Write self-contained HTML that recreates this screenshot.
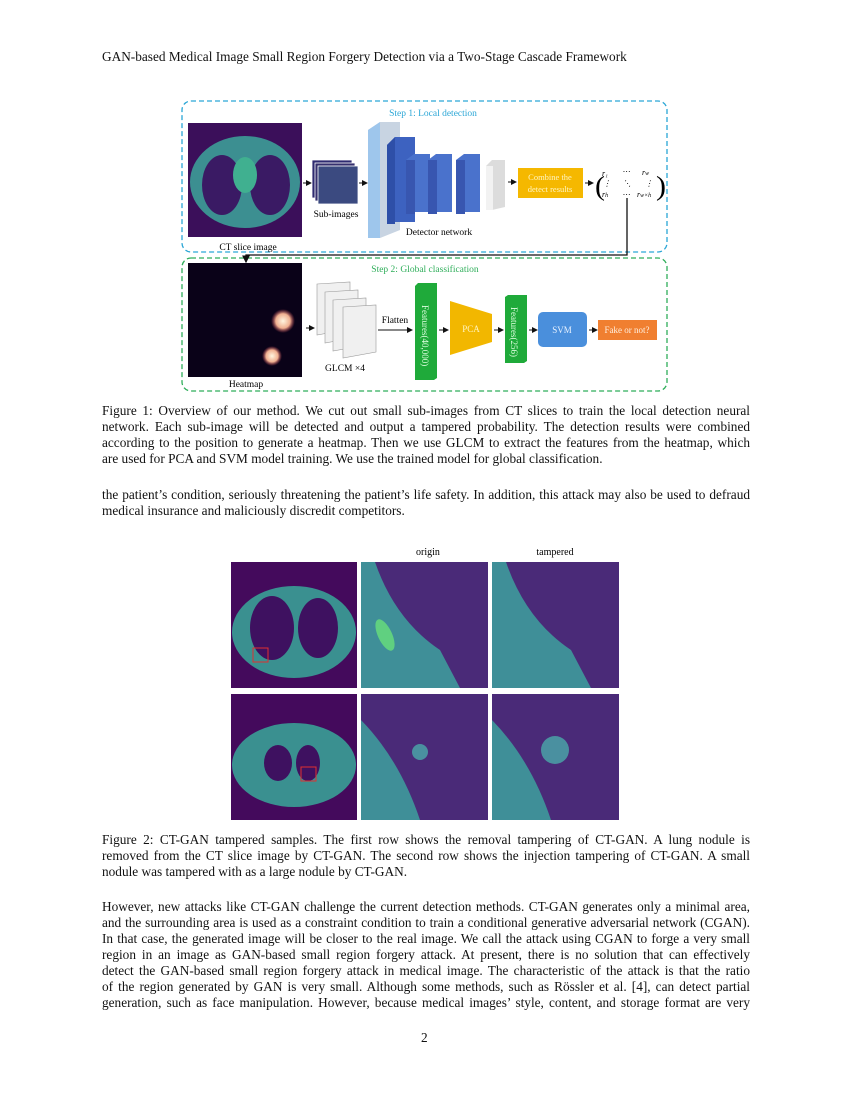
<!DOCTYPE html>
<html><head><meta charset="utf-8">
<style>
body{margin:0;background:#fff;}
#p{position:relative;width:850px;height:1100px;overflow:hidden;font-family:"Liberation Serif",serif;color:#111;}
.l{position:absolute;left:102px;width:648px;font-size:13.3px;line-height:16px;white-space:nowrap;}
.j{text-align:justify;text-align-last:justify;}
.t{position:absolute;font-family:"Liberation Serif",serif;white-space:nowrap;}
</style></head><body><div id="p">
<div class="t" style="left:102px;top:49px;font-size:13.3px;">GAN-based Medical Image Small Region Forgery Detection via a Two-Stage Cascade Framework</div>

<svg style="position:absolute;left:0;top:0" width="850" height="1100">
<defs>
<marker id="a" markerWidth="6" markerHeight="6" refX="5" refY="3" orient="auto"><path d="M0,0L6,3L0,6z" fill="#111"/></marker>
<radialGradient id="hm" cx="50%" cy="50%" r="50%"><stop offset="0" stop-color="#fff6e0"/><stop offset="0.6" stop-color="#f0b090"/><stop offset="1" stop-color="#c04050" stop-opacity="0"/></radialGradient>
</defs>
<rect x="182" y="101" width="485" height="151" rx="9" fill="none" stroke="#2aa6d6" stroke-width="1.3" stroke-dasharray="5,3"/>
<rect x="182" y="258" width="485" height="133" rx="9" fill="none" stroke="#2fae5a" stroke-width="1.3" stroke-dasharray="5,3"/>
<text x="433" y="116" font-size="9.5" fill="#2aa6d6" text-anchor="middle" font-family="Liberation Serif">Step 1: Local detection</text>
<text x="425" y="272" font-size="9.5" fill="#2fae5a" text-anchor="middle" font-family="Liberation Serif">Step 2: Global classification</text>
<!-- CT -->
<rect x="188" y="123" width="114" height="114" fill="#3b0f5a"/>
<ellipse cx="245" cy="182" rx="55" ry="46" fill="#3c8f91"/>
<ellipse cx="222" cy="185" rx="20" ry="30" fill="#3a1a64"/>
<ellipse cx="270" cy="185" rx="20" ry="30" fill="#3a1a64"/>
<ellipse cx="245" cy="175" rx="12" ry="18" fill="#40b090"/>
<text x="248" y="250" font-size="9.5" text-anchor="middle" font-family="Liberation Serif">CT slice image</text>
<line x1="303" y1="183" x2="311" y2="183" stroke="#111" marker-end="url(#a)"/>
<rect x="312" y="160" width="40" height="38" fill="#2e2a70" stroke="#fff" stroke-width="0.8"/>
<rect x="315" y="163" width="40" height="38" fill="#35306e" stroke="#fff" stroke-width="0.8"/>
<rect x="318" y="166" width="40" height="38" fill="#3b4a80" stroke="#fff" stroke-width="0.8"/>
<text x="336" y="217" font-size="9.5" text-anchor="middle" font-family="Liberation Serif">Sub-images</text>
<line x1="359" y1="183" x2="367" y2="183" stroke="#111" marker-end="url(#a)"/>
<!-- detector -->
<polygon points="368,130 380,122 400,122 400,230 380,238 368,238" fill="#c8d4e2"/>
<polygon points="368,130 380,122 380,238 368,238" fill="#9ec6ec"/>
<polygon points="387,145 395,137 415,137 415,222 395,222 387,224" fill="#3d62c0"/>
<polygon points="387,145 395,137 395,224 387,224" fill="#2e4fa8"/>
<g fill="#4a72cc">
<polygon points="406,160 414,154 430,154 430,212 414,212 406,214"/>
<polygon points="428,160 436,154 452,154 452,212 436,212 428,214"/>
<polygon points="456,160 464,154 480,154 480,212 464,212 456,214"/>
</g>
<g fill="#3856b0">
<rect x="406" y="160" width="9" height="54"/><rect x="428" y="160" width="9" height="54"/><rect x="456" y="160" width="9" height="54"/>
</g>
<polygon points="486,166 492,160 505,160 505,207 492,210 486,210" fill="#dcdcdc"/>
<rect x="486" y="166" width="7" height="44" fill="#f2f2f2"/>
<text x="439" y="235" font-size="9.5" text-anchor="middle" font-family="Liberation Serif">Detector network</text>
<line x1="508" y1="182" x2="516" y2="182" stroke="#111" marker-end="url(#a)"/>
<rect x="518" y="168" width="65" height="30" fill="#f5b800"/>
<text x="550" y="180" font-size="8.5" fill="#fff4c0" text-anchor="middle" font-family="Liberation Serif">Combine the</text>
<text x="550" y="192" font-size="8.5" fill="#fff4c0" text-anchor="middle" font-family="Liberation Serif">detect results</text>
<line x1="585" y1="183" x2="593" y2="183" stroke="#111" marker-end="url(#a)"/>
<text x="595" y="196" font-size="30" font-family="Liberation Serif" transform="scale(1,0.9)" transform-origin="600 185">(</text>
<text x="656" y="196" font-size="30" font-family="Liberation Serif" transform="scale(1,0.9)" transform-origin="660 185">)</text>
<g font-size="8" font-style="italic" font-family="Liberation Serif">
<text x="602" y="176">r₁</text><text x="622" y="174">⋯</text><text x="642" y="175">r<tspan font-size="6">w</tspan></text>
<text x="603" y="186">⋮</text><text x="623" y="186">⋱</text><text x="645" y="186">⋮</text>
<text x="602" y="197">r<tspan font-size="6">h</tspan></text><text x="622" y="197">⋯</text><text x="637" y="197">r<tspan font-size="6">w×h</tspan></text>
</g>
<polyline points="627,198 627,255 246,255 246,262" fill="none" stroke="#111" stroke-width="1.3" marker-end="url(#a)"/>
<!-- heatmap -->
<rect x="188" y="263" width="114" height="114" fill="#0a0218"/>
<circle cx="283" cy="321" r="12" fill="url(#hm)"/>
<circle cx="272" cy="356" r="10" fill="url(#hm)"/>
<text x="246" y="387" font-size="9.5" text-anchor="middle" font-family="Liberation Serif">Heatmap</text>
<line x1="306" y1="328" x2="314" y2="328" stroke="#111" marker-end="url(#a)"/>
<g fill="#f0f0f0" stroke="#999" stroke-width="0.6">
<polygon points="317,284 350,282 350,329 317,335"/>
<polygon points="325,292 358,290 358,337 325,343"/>
<polygon points="333,300 366,298 366,345 333,351"/>
<polygon points="343,307 376,305 376,352 343,358"/>
</g>
<text x="345" y="371" font-size="9.5" text-anchor="middle" font-family="Liberation Serif">GLCM ×4</text>
<text x="395" y="323" font-size="9.5" text-anchor="middle" font-family="Liberation Serif">Flatten</text>
<line x1="378" y1="330" x2="412" y2="330" stroke="#111" marker-end="url(#a)"/>
<polygon points="415,286 418,283 437,283 437,378 434,380 415,380" fill="#1faa3a"/>
<text transform="translate(422,305) rotate(90)" font-size="9" fill="#e0ffe0" font-family="Liberation Serif">Features(40,000)</text>
<line x1="439" y1="330" x2="448" y2="330" stroke="#111" marker-end="url(#a)"/>
<polygon points="450,301 492,314 492,342 450,355" fill="#f2b700"/>
<text x="471" y="332" font-size="9" fill="#fff4c0" text-anchor="middle" font-family="Liberation Serif">PCA</text>
<line x1="494" y1="330" x2="503" y2="330" stroke="#111" marker-end="url(#a)"/>
<polygon points="505,297 508,295 527,295 527,361 524,363 505,363" fill="#1faa3a"/>
<text transform="translate(511,307) rotate(90)" font-size="9" fill="#e0ffe0" font-family="Liberation Serif">Features(256)</text>
<line x1="529" y1="330" x2="537" y2="330" stroke="#111" marker-end="url(#a)"/>
<rect x="538" y="312" width="49" height="35" rx="5" fill="#4a8fdc"/>
<text x="562" y="333" font-size="9" fill="#e8f2ff" text-anchor="middle" font-family="Liberation Serif">SVM</text>
<line x1="589" y1="330" x2="597" y2="330" stroke="#111" marker-end="url(#a)"/>
<rect x="598" y="320" width="59" height="20" fill="#f07f30"/>
<text x="627" y="333" font-size="9" fill="#fff0e0" text-anchor="middle" font-family="Liberation Serif">Fake or not?</text>

<!-- Figure 2 -->
<text x="428" y="555" font-size="10" text-anchor="middle" font-family="Liberation Serif">origin</text>
<text x="555" y="555" font-size="10" text-anchor="middle" font-family="Liberation Serif">tampered</text>
<rect x="231" y="562" width="126" height="126" fill="#440a5c"/>
<ellipse cx="294" cy="632" rx="62" ry="46" fill="#3a9090"/>
<ellipse cx="272" cy="628" rx="22" ry="32" fill="#3e1160"/>
<ellipse cx="318" cy="628" rx="20" ry="30" fill="#3e1160"/>
<rect x="253" y="648" width="15" height="14" fill="none" stroke="#e03030" stroke-width="1"/>
<rect x="231" y="694" width="126" height="126" fill="#440a5c"/>
<ellipse cx="294" cy="765" rx="62" ry="42" fill="#3a9090"/>
<ellipse cx="278" cy="763" rx="14" ry="18" fill="#3e1160"/>
<ellipse cx="308" cy="763" rx="12" ry="18" fill="#3e1160"/>
<rect x="301" y="767" width="15" height="14" fill="none" stroke="#e03030" stroke-width="1"/>
<g>
<rect x="361" y="562" width="127" height="126" fill="#4a2a78"/>
<path d="M361,562 L375,562 Q395,620 440,650 L460,688 L361,688z" fill="#3f8f98"/>
<ellipse cx="385" cy="635" rx="7" ry="17" fill="#60d080" transform="rotate(-25 385 635)"/>
<rect x="492" y="562" width="127" height="126" fill="#4a2a78"/>
<path d="M492,562 L506,562 Q526,620 571,650 L591,688 L492,688z" fill="#3f8f98"/>
<rect x="361" y="694" width="127" height="126" fill="#4a2a78"/>
<path d="M361,720 Q400,760 420,820 L361,820z" fill="#3f8f98"/>
<circle cx="420" cy="752" r="8" fill="#4a90a0"/>
<rect x="492" y="694" width="127" height="126" fill="#4a2a78"/>
<path d="M492,720 Q531,760 551,820 L492,820z" fill="#3f8f98"/>
<circle cx="555" cy="750" r="14" fill="#4a90a0"/>
</g>
</svg>

<div class="l j" style="top:403px">Figure 1: Overview of our method. We cut out small sub-images from CT slices to train the local detection neural</div>
<div class="l j" style="top:419px">network. Each sub-image will be detected and output a tampered probability. The detection results were combined</div>
<div class="l j" style="top:435px">according to the position to generate a heatmap. Then we use GLCM to extract the features from the heatmap, which</div>
<div class="l" style="top:451px">are used for PCA and SVM model training. We use the trained model for global classification.</div>
<div class="l j" style="top:487px">the patient’s condition, seriously threatening the patient’s life safety. In addition, this attack may also be used to defraud</div>
<div class="l" style="top:503px">medical insurance and maliciously discredit competitors.</div>

<div class="l j" style="top:832px">Figure 2: CT-GAN tampered samples. The first row shows the removal tampering of CT-GAN. A lung nodule is</div>
<div class="l j" style="top:848px">removed from the CT slice image by CT-GAN. The second row shows the injection tampering of CT-GAN. A small</div>
<div class="l" style="top:864px">nodule was tampered with as a large nodule by CT-GAN.</div>

<div class="l j" style="top:899px">However, new attacks like CT-GAN challenge the current detection methods. CT-GAN generates only a minimal area,</div>
<div class="l j" style="top:915px">and the surrounding area is used as a constraint condition to train a conditional generative adversarial network (CGAN).</div>
<div class="l j" style="top:931px">In that case, the generated image will be closer to the real image. We call the attack using CGAN to forge a very small</div>
<div class="l j" style="top:947px">region in an image as GAN-based small region forgery attack. At present, there is no solution that can effectively</div>
<div class="l j" style="top:963px">detect the GAN-based small region forgery attack in medical image. The characteristic of the attack is that the ratio</div>
<div class="l j" style="top:979px">of the region generated by GAN is very small. Although some methods, such as Rössler et al. [4], can detect partial</div>
<div class="l j" style="top:995px">generation, such as face manipulation. However, because medical images’ style, content, and storage format are very</div>
<div class="t" style="left:421px;top:1030px;font-size:13.3px;">2</div>
</div></body></html>
